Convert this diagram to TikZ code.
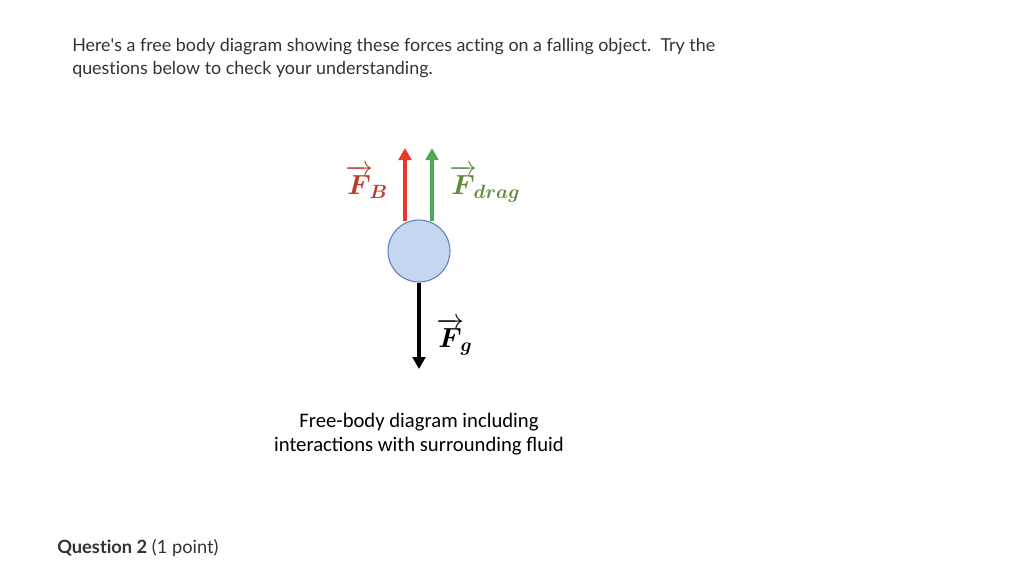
\documentclass[tikz,border=0pt]{standalone}
\usepackage{amsmath}
\usepackage{bm}
\usepackage{fontspec}
\setmainfont{Lato}[Ligatures={TeX,NoCommon}]
\newfontfamily\capfont{Carlito}
\usetikzlibrary{arrows.meta,calc}
\definecolor{ballfill}{HTML}{C5D7EE}
\definecolor{balldraw}{HTML}{5F80B8}
\definecolor{buoyred}{HTML}{E8372B}
\definecolor{buoylbl}{HTML}{C0392B}
\definecolor{draggreen}{HTML}{4FAA55}
\definecolor{draglbl}{HTML}{5E8C3C}
\definecolor{txtgray}{HTML}{333333}
\newcommand{\forcevec}[1]{$\overrightarrow{\bm{F}}_{\!\mbox{\fontsize{15}{15}\selectfont$\bm{#1}$}}$}

\begin{document}
\begin{tikzpicture}[x=0.75pt,y=-0.75pt]
					\tikzset{>={Triangle[width=9.5pt,length=9pt]}}
					\tikzset{force/.style={line width=3pt,->}}
					\tikzset{lbl/.style={font=\fontsize{21}{21}\selectfont,inner sep=0pt}}
					\useasboundingbox (0,0) rectangle (1024,569);
					\node[anchor=north west,align=left,inner sep=0pt,text=txtgray,font=\fontsize{13.4}{17}\selectfont] (intro) at (72,38.5) {Here\textquotesingle s a free body diagram showing these forces acting on a falling object.\ \ Try the\\questions below to check your understanding.};
					\node[circle,draw=balldraw,fill=ballfill,minimum size=46.5pt,inner sep=0pt,line width=0.8pt] (ball) at (419,251) {};
					\coordinate (tipB) at (405,148);
					\coordinate (tipD) at (432,148);
					\coordinate (tipG) at (419,369);
					\draw[force,buoyred] (ball.north -| tipB) ++(0,2) -- (tipB);
					\draw[force,draggreen] (ball.north -| tipD) ++(0,2) -- (tipD);
					\draw[force,black] (ball.south) -- (tipG);
					\node[lbl,buoylbl,anchor=base west] (lblB) at (345,194) {\forcevec{B}};
					\node[lbl,draglbl,anchor=base west] (lblD) at (449,194) {\forcevec{drag}};
					\node[lbl,black,anchor=base west] (lblG) at (436,347) {\forcevec{g}};
					\node[align=center,font=\capfont\fontsize{15.5}{18}\selectfont] (caption) at (419,434) {Free-body diagram including\\interactions with surrounding fluid};
					\node[anchor=base west,inner sep=0pt,text=txtgray,font=\fontsize{13.7}{15}\selectfont] (question) at (57,553) {\textbf{Question 2} (1 point)};
				\end{tikzpicture}
\end{document}
